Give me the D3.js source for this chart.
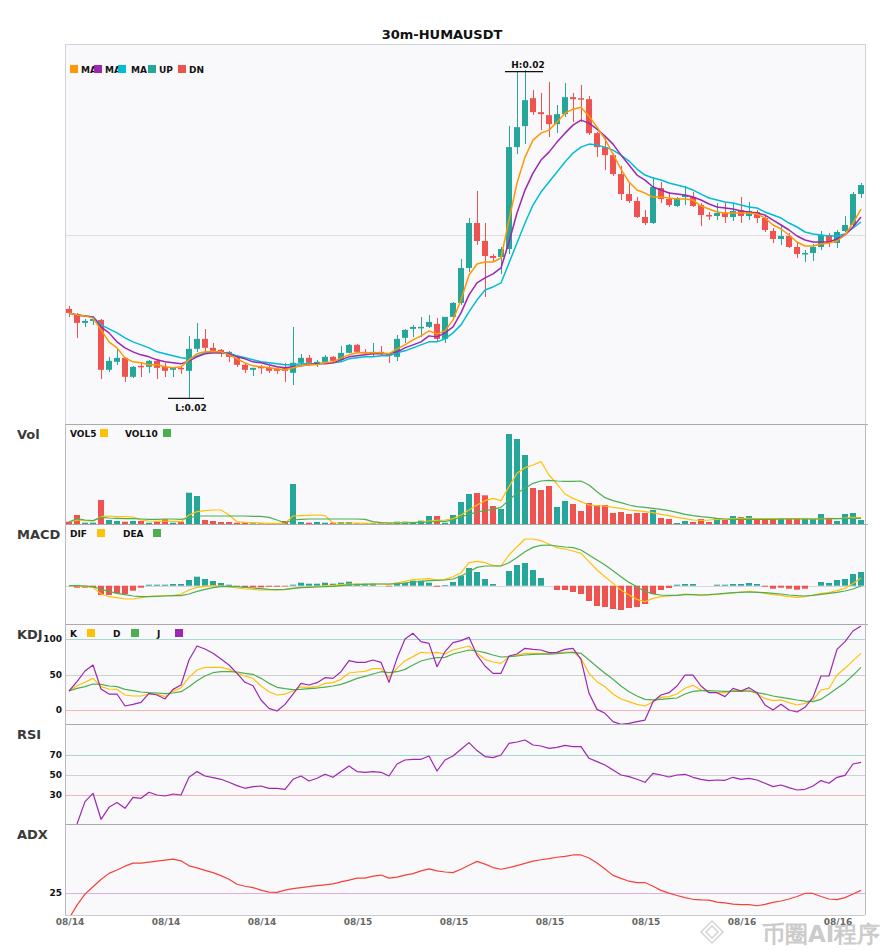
<!DOCTYPE html>
<html>
<head>
<meta charset="utf-8">
<title>30m-HUMAUSDT</title>
<script src="https://cdn.jsdelivr.net/npm/d3@7/dist/d3.min.js"></script>
<style>
  body { margin: 0; background: #ffffff; }
  text { font-family: "DejaVu Sans", sans-serif; font-weight: bold; }
</style>
</head>
<body>
<svg id="svg1" width="885" height="950"></svg>
<script>
// ---- candles (30m) ----
var open = [0.01972,0.01962,0.01944,0.01948,0.01950,0.01850,0.01866,0.01874,0.01836,0.01858,
  0.01856,0.01868,0.01856,0.01850,0.01854,0.01848,0.01892,0.01912,0.01894,0.01890,
  0.01886,0.01874,0.01860,0.01850,0.01856,0.01854,0.01852,0.01854,0.01844,0.01864,
  0.01874,0.01860,0.01866,0.01876,0.01870,0.01884,0.01900,0.01886,0.01882,0.01886,
  0.01882,0.01876,0.01914,0.01932,0.01934,0.01936,0.01942,0.01912,0.01956,0.01984,
  0.02054,0.02144,0.02108,0.02078,0.02076,0.02092,0.02296,0.02338,0.02394,0.02366,
  0.02360,0.02342,0.02362,0.02396,0.02394,0.02392,0.02324,0.02296,0.02280,0.02242,
  0.02202,0.02188,0.02156,0.02144,0.02214,0.02192,0.02178,0.02196,0.02196,0.02180,
  0.02160,0.02158,0.02164,0.02156,0.02170,0.02158,0.02166,0.02154,0.02128,0.02112,
  0.02118,0.02096,0.02082,0.02084,0.02096,0.02120,0.02104,0.02128,0.02140,0.02202];
var high = [0.01978,0.01964,0.01952,0.01956,0.01952,0.01876,0.01894,0.01876,0.01858,0.01866,
  0.01870,0.01872,0.01864,0.01856,0.01858,0.01918,0.01944,0.01932,0.01904,0.01892,
  0.01888,0.01876,0.01864,0.01854,0.01860,0.01858,0.01856,0.01864,0.01936,0.01882,
  0.01880,0.01870,0.01880,0.01878,0.01898,0.01902,0.01902,0.01892,0.01904,0.01898,
  0.01884,0.01920,0.01932,0.01940,0.01956,0.01960,0.01954,0.01956,0.01986,0.02072,
  0.02154,0.02208,0.02144,0.02082,0.02096,0.02338,0.02446,0.02450,0.02410,0.02404,
  0.02426,0.02380,0.02424,0.02404,0.02420,0.02398,0.02326,0.02314,0.02284,0.02258,
  0.02224,0.02196,0.02170,0.02236,0.02226,0.02206,0.02196,0.02218,0.02206,0.02184,
  0.02166,0.02184,0.02186,0.02184,0.02196,0.02186,0.02170,0.02160,0.02134,0.02138,
  0.02124,0.02106,0.02090,0.02102,0.02128,0.02124,0.02130,0.02158,0.02206,0.02224];
var low = [0.01956,0.01914,0.01936,0.01940,0.01832,0.01846,0.01860,0.01826,0.01834,0.01836,
  0.01844,0.01832,0.01836,0.01836,0.01842,0.01794,0.01886,0.01886,0.01886,0.01876,
  0.01866,0.01856,0.01844,0.01838,0.01842,0.01844,0.01842,0.01826,0.01820,0.01860,
  0.01860,0.01856,0.01864,0.01866,0.01866,0.01884,0.01884,0.01880,0.01878,0.01878,
  0.01864,0.01868,0.01904,0.01916,0.01916,0.01934,0.01906,0.01904,0.01954,0.01980,
  0.02046,0.02100,0.01996,0.02068,0.02042,0.02082,0.02282,0.02302,0.02360,0.02330,
  0.02316,0.02324,0.02356,0.02346,0.02346,0.02320,0.02276,0.02250,0.02238,0.02190,
  0.02184,0.02154,0.02140,0.02142,0.02184,0.02176,0.02176,0.02180,0.02176,0.02138,
  0.02150,0.02150,0.02144,0.02148,0.02144,0.02150,0.02144,0.02126,0.02104,0.02100,
  0.02094,0.02074,0.02066,0.02068,0.02090,0.02096,0.02094,0.02126,0.02138,0.02194];
var close = [0.01964,0.01944,0.01948,0.01952,0.01850,0.01868,0.01874,0.01836,0.01856,0.01856,
  0.01868,0.01854,0.01848,0.01854,0.01852,0.01892,0.01912,0.01894,0.01888,0.01884,
  0.01876,0.01860,0.01850,0.01854,0.01854,0.01848,0.01848,0.01848,0.01864,0.01874,
  0.01864,0.01866,0.01876,0.01868,0.01884,0.01900,0.01886,0.01884,0.01886,0.01882,
  0.01880,0.01912,0.01930,0.01936,0.01936,0.01946,0.01912,0.01956,0.01984,0.02054,
  0.02144,0.02108,0.02078,0.02074,0.02092,0.02296,0.02336,0.02390,0.02366,0.02362,
  0.02342,0.02362,0.02396,0.02392,0.02392,0.02324,0.02296,0.02280,0.02242,0.02202,
  0.02188,0.02156,0.02144,0.02216,0.02192,0.02180,0.02194,0.02200,0.02178,0.02160,
  0.02158,0.02164,0.02156,0.02168,0.02158,0.02168,0.02154,0.02130,0.02112,0.02118,
  0.02096,0.02082,0.02084,0.02096,0.02120,0.02104,0.02126,0.02140,0.02202,0.02220];

var ma5 = [0.01964,0.01960,0.01958,0.01954,0.01930,0.01906,0.01894,0.01874,0.01866,0.01864,
  0.01860,0.01860,0.01856,0.01854,0.01856,0.01870,0.01882,0.01886,0.01886,0.01886,
  0.01880,0.01872,0.01864,0.01858,0.01856,0.01854,0.01852,0.01850,0.01854,0.01858,
  0.01860,0.01860,0.01864,0.01866,0.01874,0.01880,0.01884,0.01884,0.01884,0.01884,
  0.01882,0.01892,0.01900,0.01910,0.01918,0.01928,0.01922,0.01928,0.01950,0.01990,
  0.02040,0.02062,0.02066,0.02066,0.02074,0.02150,0.02224,0.02276,0.02310,0.02324,
  0.02330,0.02346,0.02364,0.02372,0.02376,0.02358,0.02336,0.02312,0.02282,0.02252,
  0.02226,0.02210,0.02204,0.02196,0.02196,0.02194,0.02192,0.02192,0.02190,0.02178,
  0.02172,0.02166,0.02164,0.02164,0.02164,0.02164,0.02162,0.02154,0.02140,0.02132,
  0.02120,0.02106,0.02098,0.02098,0.02102,0.02104,0.02108,0.02120,0.02144,0.02172];
var ma10 = [0.01964,0.01960,0.01958,0.01956,0.01936,0.01924,0.01906,0.01894,0.01886,0.01880,
  0.01876,0.01870,0.01866,0.01864,0.01862,0.01868,0.01876,0.01882,0.01884,0.01884,
  0.01882,0.01876,0.01872,0.01866,0.01864,0.01860,0.01856,0.01854,0.01856,0.01858,
  0.01860,0.01862,0.01862,0.01864,0.01870,0.01876,0.01878,0.01880,0.01882,0.01882,
  0.01882,0.01886,0.01894,0.01900,0.01906,0.01918,0.01916,0.01924,0.01936,0.01964,
  0.02000,0.02024,0.02034,0.02042,0.02054,0.02106,0.02164,0.02210,0.02244,0.02270,
  0.02286,0.02306,0.02324,0.02340,0.02350,0.02344,0.02332,0.02318,0.02302,0.02280,
  0.02260,0.02240,0.02230,0.02216,0.02210,0.02204,0.02202,0.02200,0.02196,0.02190,
  0.02182,0.02176,0.02174,0.02172,0.02168,0.02166,0.02164,0.02160,0.02150,0.02140,
  0.02130,0.02118,0.02110,0.02106,0.02106,0.02106,0.02112,0.02120,0.02136,0.02156];
var ma20 = [0.01964,0.01960,0.01958,0.01956,0.01940,0.01932,0.01924,0.01914,0.01906,0.01900,
  0.01894,0.01886,0.01882,0.01878,0.01874,0.01872,0.01878,0.01884,0.01884,0.01884,
  0.01884,0.01878,0.01874,0.01870,0.01866,0.01864,0.01862,0.01860,0.01860,0.01862,
  0.01862,0.01862,0.01864,0.01864,0.01866,0.01872,0.01874,0.01876,0.01876,0.01878,
  0.01878,0.01884,0.01888,0.01894,0.01900,0.01906,0.01906,0.01912,0.01924,0.01940,
  0.01966,0.01990,0.02010,0.02016,0.02024,0.02064,0.02104,0.02144,0.02180,0.02206,
  0.02226,0.02246,0.02266,0.02284,0.02296,0.02302,0.02300,0.02296,0.02290,0.02280,
  0.02268,0.02252,0.02240,0.02234,0.02230,0.02224,0.02220,0.02216,0.02210,0.02202,
  0.02194,0.02190,0.02186,0.02184,0.02180,0.02176,0.02174,0.02166,0.02160,0.02154,
  0.02144,0.02136,0.02126,0.02122,0.02120,0.02118,0.02118,0.02122,0.02134,0.02146];

// volume in thousands
var volume = [230,900,130,130,2400,400,300,230,300,300,
  130,230,470,130,230,3130,2800,400,300,200,
  200,130,130,70,70,70,70,300,4000,200,
  130,200,130,130,200,200,70,70,70,70,
  70,230,230,130,330,800,800,130,900,2200,
  3000,3100,2870,1800,1500,9000,8500,6900,3600,3400,
  3800,1700,2300,2000,1300,2100,1900,1900,1100,1200,
  1000,1100,1100,1400,600,500,100,300,200,500,
  200,600,400,800,700,800,600,600,600,600,
  600,600,500,500,1000,600,300,1000,1100,400];
var vol5 = [200,400,333,300,733,800,733,733,700,400,
  300,267,300,267,233,900,1233,1333,1400,1400,
  900,233,167,133,100,67,67,67,800,833,
  867,900,833,100,100,100,100,67,100,100,
  100,133,167,167,200,300,367,400,533,900,
  1400,1900,2333,2567,2333,3733,5067,5633,5900,6233,
  4900,4000,3000,2567,2233,1900,1833,1800,1667,1567,
  1400,1333,1233,1133,967,833,667,533,400,367,
  400,467,500,533,567,567,533,533,533,533,
  533,533,533,500,533,567,533,600,667,633];
var vol10 = [200,533,400,333,667,600,567,533,533,500,
  467,467,500,500,467,600,800,800,800,800,
  800,800,800,767,767,667,400,100,400,467,
  500,500,500,500,500,500,500,467,233,133,
  100,100,100,133,167,200,267,267,400,700,
  967,1200,1333,1467,1667,2400,3067,3567,4067,4300,
  4367,4300,4267,4267,4300,3900,3233,2633,2333,2133,
  1900,1733,1667,1567,1467,1333,1167,967,833,733,
  667,567,500,467,467,467,467,467,467,500,
  500,500,500,500,500,533,533,533,567,567];

// MACD values, in units of 1e-5
var dif = [0,-0.3,-0.7,-1.7,-8.3,-11,-12,-13.3,-13.3,-12,
  -10.7,-10.3,-10,-10,-8.3,-4.3,-1.7,-0.7,0,-0.3,
  -1,-2.3,-3.3,-3.7,-4.3,-4.3,-4.3,-4,-2.7,-1.7,
  -1.3,-1,0,0.3,1,1.7,1.7,1.7,1.7,1.7,
  1.3,2.7,4.3,6,6.7,7,5.7,6.3,9,13,
  23,24.3,23,20.3,19.7,30.7,39,46.7,46.7,45,
  41.7,38,36.7,34.7,32.3,24,15.7,9,2.3,-4.3,
  -9.3,-13.7,-16,-12.7,-11,-10.3,-9.7,-8.3,-9,-9.7,
  -9.3,-8.7,-8,-7.3,-6.3,-5.7,-6.3,-7.7,-9,-9.7,
  -11,-11.7,-11,-9.3,-7.7,-7,-5,-2.7,2.3,7.7];
var dea = [0,0,-0.3,-1,-3.7,-5.7,-7.7,-9,-10.3,-11,
  -11,-10.7,-10.3,-10,-10,-8.3,-5.7,-3.7,-2,-1,
  -0.7,-1,-1.7,-2.3,-3,-3.7,-4,-3.7,-2.7,-2,
  -1.7,-1.3,-1,-0.7,0,0.7,1,1.3,1.7,1.7,
  1.7,2,2.7,3.7,4.3,5,5.3,5.7,6.7,9.7,
  14,18.3,19.7,19.7,19.7,23,28.3,34,38.3,40.3,
  40.7,39.7,38.7,38,35.7,30.7,25.7,20.7,15,9,
  3.3,-1,-5.7,-8.3,-9.3,-9.7,-9.7,-9,-9,-9.3,
  -9,-8.3,-7.7,-7,-6.7,-6.3,-6.7,-7,-7.7,-8.3,
  -9.3,-10,-10.3,-9.7,-8.7,-7.7,-6.7,-5.3,-3.3,-0.3];
var macdHist = [0,-2,-2,-2,-9.3,-9.3,-7.7,-8.3,-5,-2,
  1,1,1,1.7,1.7,5.7,9,6.7,4.7,2.7,
  1,-1,-1.7,-1.7,-1.7,-1,-1,-0.7,1,3,
  2,2,3,2,3,4,2,2,2,0,
  -0.7,3,3,5,5,3,-1,0.7,3.7,10,
  17.7,13.7,6.7,1.7,0,14.7,20.7,22.7,15.7,7.7,
  0,-4.3,-4.3,-6.3,-8.3,-15.3,-20.3,-21.3,-23.3,-24.3,
  -22.3,-21.3,-18.3,-8.3,-4.3,-2.3,1,1.7,1.7,0,
  0,1,1,1.7,1.7,2.7,1.7,-1,-3,-2,
  -3,-4,-3,0,3.7,2.7,5.7,6.7,11.7,13.7];

var kLine = [26.9,34.4,39.2,44.8,33,29.7,29.2,21.2,19.8,19.8,
  22.6,22.6,18.9,26.4,31.6,46.2,56.6,60.4,60.4,60.4,
  57.5,51.9,48.1,44.8,34,25.9,21.2,22.6,26.9,32.5,
  32.1,33,37.7,38.7,43.4,52.4,53.8,54.7,58.5,58.5,
  46.2,59,69.8,75.5,81.6,80.7,81.6,79.2,84.9,87.7,
  90.6,80.2,71.7,67.9,66,75.5,77.4,80.2,80.2,80.2,
  79.7,80.7,81.6,82.1,73.1,51.9,40.1,33,22.6,15.6,
  11.8,8,5.7,11.8,17.9,18.9,22.6,30.7,34.9,28.3,
  25.5,24.5,24.5,27.4,27.4,28.3,22.6,16.5,13.2,14.2,
  10.4,7.1,9.4,14.2,28.3,30.7,49.5,59,69.8,80.2];
var dLine = [26.9,30.7,33,36.8,36.3,34,33,29.2,27.4,25.5,
  24.5,24.1,23.1,24.1,25.9,33,41.5,48.1,52.8,54.2,
  54.2,53.8,51.9,50.5,44.8,37.7,32.1,30.2,28.8,29.2,
  30.2,31.1,32.5,34,36.3,40.1,44.8,47.6,50.9,54.2,
  52.8,54.2,57.5,63.7,69.3,72.2,74,74.5,79.2,82.1,
  84.9,83.5,81.1,77.8,75,75.5,76.4,77.8,78.8,79.2,
  79.2,79.7,80.7,81.6,80.2,70.8,61.3,51.9,43.4,34,
  25.9,19.8,15.1,14.2,15.1,16,17,22.6,26.4,27.4,
  27.4,26.9,26.4,26.4,26.4,26.9,24.5,22.6,19.8,17.9,
  16,14.2,12.7,11.8,15.1,22.6,30.7,38.7,49.1,60.4];
var jLine = [26.9,40.1,55.2,63.7,29.7,22.6,22.6,5.7,8,10.8,
  23.6,21.2,15.6,29.2,35.4,70.8,90.6,86.3,80.2,72.2,
  63.7,51.9,39.2,34.4,14.2,2.4,-1.4,8,22.6,37.7,
  35.4,38.7,45.8,44.8,54.2,69.8,67.5,67.5,70.8,67.5,
  39.2,73.1,100.5,108.5,96.7,94.3,61.3,82.5,95.3,98.1,
  102.8,77.8,62.3,51.9,51.9,76.4,79.2,87.3,85.8,84.9,
  81.1,81.6,85.8,87.3,71.7,23.6,0.9,-4.7,-16.5,-20.3,
  -18.9,-16.5,-14.2,11.8,21.2,24.5,34,49.5,49.5,34,
  24.5,24.5,18.9,30.7,26.9,31.6,24.5,7.1,0,8,
  0,-2.8,3.8,17.9,48.1,48.1,85.8,96.7,111.8,118.9];

var rsi = [null,1.3,23.7,32,6,18,22.7,17,28,27,
  33,30.3,29.3,31.3,30.3,48,53.7,49.3,47.7,46,
  43,39.7,37,38.7,39.3,37,37,36,46,49.3,
  44.3,47,51,48,53.7,59.3,53.7,53,53.7,53,
  49.3,61.3,65.3,66,66,69.3,54.3,65.3,69.3,76,
  82.7,74.7,68.7,67.7,70.3,82,83.3,85.3,80.3,79.3,
  77,78,80,78.7,78.7,67,63.7,60.3,55.3,50.3,
  48.7,46,43,52,50.3,48.3,50.3,51,48,46,
  44.7,45.3,45,48,46,47,45.3,42,38.7,40.3,
  37.7,35.3,36,39.3,44.7,42,48,50,61.3,63];

var adx = [8.6,17.4,24.6,29.4,34.1,38.1,40.3,42.8,44.8,44.8,
  45.4,46.1,46.8,47.4,46.3,43,41.7,40.1,38.6,36.6,
  34.3,31,29.7,28.8,27.2,25.9,25.7,27.2,28.1,28.8,
  29.4,30.1,30.6,31.2,32.6,33.7,35,35,36.3,37,
  35,35.7,37,37.9,39.7,41,39.7,39,38.6,40.8,
  43.4,45.9,44.1,41.9,40.8,41.9,43.2,44.6,46.1,47,
  47.7,48.6,49.2,50.1,50.1,48.1,44.8,41,36.8,34.8,
  33,32.1,32.1,29.7,27,25.2,23.7,22.3,21.2,20.8,
  20.6,19.4,18.8,18.1,17.7,17.7,17,17.9,19.2,20.1,
  21.4,23,25,25,23,21.4,21,22.3,24.6,27];

// one label every 12 candles
var tickLabels = ['08/14','08/14','08/14','08/15','08/15','08/15','08/15','08/16','08/16'];

var svg = d3.select('svg');

var left = 65, right = 865;
var upColor = '#26a69a', dnColor = '#ef5350';

// panel boxes, top to bottom
var pMain = {top: 44, bottom: 424},
    pVol = {top: 424, bottom: 524},
    pMacd = {top: 524, bottom: 624},
    pKdj = {top: 624, bottom: 724},
    pRsi = {top: 724, bottom: 824},
    pAdx = {top: 824, bottom: 915};

var x = d3.scaleBand()
    .domain(d3.range(close.length))
    .range([left, right])
    .paddingInner(0.25)
    .paddingOuter(0.125);
function cx(i) { return x(i) + x.bandwidth() / 2; }
function isUp(i) { return close[i] >= open[i]; }

var minLow = d3.min(low), maxHigh = d3.max(high);
var pricePad = (maxHigh - minLow) * 0.08;
var yPrice = d3.scaleLinear().domain([minLow - pricePad, maxHigh + pricePad]).range([pMain.bottom, pMain.top]);
var yVol = d3.scaleLinear().domain([0, 10000]).range([pVol.bottom, pVol.top]);
var yMacd = d3.scaleLinear().domain([-38.3, 61.7]).range([pMacd.bottom, pMacd.top]);
var yKdj = d3.scaleLinear().domain([-19.8, 121.7]).range([pKdj.bottom, pKdj.top]);
var yRsi = d3.scaleLinear().domain([1.3, 101.3]).range([pRsi.bottom, pRsi.top]);
var yAdx = d3.scaleLinear().domain([10.3, 70.3]).range([pAdx.bottom + 1, pAdx.top]);

// title
svg.append('text')
    .attr('x', 442).attr('y', 39)
    .attr('text-anchor', 'middle')
    .attr('font-size', 13)
    .attr('fill', '#111')
    .text('30m-HUMAUSDT');

var defs = svg.append('defs');
var allPanels = [pMain, pVol, pMacd, pKdj, pRsi, pAdx];
allPanels.forEach(function(p, k) {
    p.clip = 'clip' + k;
    defs.append('clipPath').attr('id', p.clip)
        .append('rect')
        .attr('x', left).attr('y', p.top)
        .attr('width', right - left).attr('height', p.bottom - p.top);
    svg.append('rect')
        .attr('x', left).attr('y', p.top)
        .attr('width', right - left).attr('height', p.bottom - p.top)
        .attr('fill', '#f9f9fb');
    p.g = svg.append('g').attr('clip-path', 'url(#' + p.clip + ')');
});

// frame lines
svg.append('rect')
    .attr('x', left + 0.5).attr('y', pMain.top + 0.5)
    .attr('width', right - left).attr('height', pMain.bottom - pMain.top)
    .attr('fill', 'none').attr('stroke', '#d2d2da');
[pVol, pMacd, pKdj, pRsi, pAdx].forEach(function(p) {
    svg.append('line')
        .attr('x1', left).attr('x2', right + 3)
        .attr('y1', p.top + 0.5).attr('y2', p.top + 0.5)
        .attr('stroke', '#aaa');
});
svg.append('line').attr('x1', left).attr('x2', right)
    .attr('y1', pAdx.bottom + 0.5).attr('y2', pAdx.bottom + 0.5).attr('stroke', '#ccc');
svg.append('line').attr('x1', left + 0.5).attr('x2', left + 0.5)
    .attr('y1', pVol.top).attr('y2', pAdx.bottom).attr('stroke', '#bbb');
svg.append('line').attr('x1', right + 0.5).attr('x2', right + 0.5)
    .attr('y1', pVol.top).attr('y2', pAdx.bottom).attr('stroke', '#bbb');

// main grid line
pMain.g.append('line')
    .attr('x1', left).attr('x2', right)
    .attr('y1', Math.round(yPrice(0.0212)) + 0.5).attr('y2', Math.round(yPrice(0.0212)) + 0.5)
    .attr('stroke', '#dcdce2');

function drawLine(g, values, yScale, color, width) {
    var line = d3.line()
        .defined(function(d) { return d != null; })
        .x(function(d, i) { return cx(i); })
        .y(function(d) { return yScale(d); });
    g.append('path')
        .datum(values)
        .attr('d', line)
        .attr('fill', 'none')
        .attr('stroke', color)
        .attr('stroke-width', width)
        .attr('stroke-linejoin', 'round');
}

function refLine(g, yScale, v, color) {
    var yy = Math.round(yScale(v)) + 0.5;
    g.append('line')
        .attr('x1', left).attr('x2', right)
        .attr('y1', yy).attr('y2', yy)
        .attr('stroke', color);
}

function yLabel(yScale, v) {
    svg.append('text')
        .attr('x', 62).attr('y', yScale(v) + 3)
        .attr('text-anchor', 'end')
        .attr('font-size', 9)
        .attr('fill', '#111')
        .text(v);
}

// ---- candles ----
var candles = pMain.g.selectAll('g.candle')
    .data(close)
    .enter()
    .append('g')
    .attr('class', 'candle');

candles.append('line')
    .attr('x1', function(d, i) { return cx(i); })
    .attr('x2', function(d, i) { return cx(i); })
    .attr('y1', function(d, i) { return yPrice(high[i]); })
    .attr('y2', function(d, i) { return yPrice(low[i]); })
    .attr('stroke', function(d, i) { return isUp(i) ? upColor : dnColor; })
    .attr('stroke-width', 1)
    .attr('shape-rendering', 'crispEdges');

candles.append('rect')
    .attr('x', function(d, i) { return x(i); })
    .attr('width', x.bandwidth())
    .attr('y', function(d, i) { return yPrice(Math.max(open[i], close[i])); })
    .attr('height', function(d, i) { return Math.max(1.5, Math.abs(yPrice(open[i]) - yPrice(close[i]))); })
    .attr('fill', function(d, i) { return isUp(i) ? upColor : dnColor; });

drawLine(pMain.g, ma20, yPrice, '#00bcd4', 1.5);
drawLine(pMain.g, ma10, yPrice, '#9c27b0', 1.5);
drawLine(pMain.g, ma5, yPrice, '#ff9800', 1.5);

// highest / lowest markers
var fmt = d3.format('.2f');
var hi = d3.maxIndex(high), lo = d3.minIndex(low);
svg.append('line')
    .attr('x1', cx(hi) - 20).attr('x2', cx(hi) + 18)
    .attr('y1', yPrice(high[hi]) + 1.5).attr('y2', yPrice(high[hi]) + 1.5)
    .attr('stroke', '#111').attr('stroke-width', 1.2);
svg.append('text')
    .attr('x', cx(hi) + 3).attr('y', yPrice(high[hi]) - 2)
    .attr('text-anchor', 'middle').attr('font-size', 9).attr('fill', '#111')
    .text('H:' + fmt(high[hi]));
svg.append('line')
    .attr('x1', cx(lo) - 21).attr('x2', cx(lo) + 15)
    .attr('y1', yPrice(low[lo]) + 0.5).attr('y2', yPrice(low[lo]) + 0.5)
    .attr('stroke', '#111').attr('stroke-width', 1.2);
svg.append('text')
    .attr('x', cx(lo) + 2).attr('y', yPrice(low[lo]) + 13)
    .attr('text-anchor', 'middle').attr('font-size', 9).attr('fill', '#111')
    .text('L:' + fmt(low[lo]));

// ---- volume ----
pVol.g.selectAll('rect.vol')
    .data(volume)
    .enter()
    .append('rect')
    .attr('class', 'vol')
    .attr('x', function(d, i) { return x(i); })
    .attr('width', x.bandwidth())
    .attr('y', function(d) { return yVol(d); })
    .attr('height', function(d) { return yVol(0) - yVol(d); })
    .attr('fill', function(d, i) { return isUp(i) ? upColor : dnColor; });
drawLine(pVol.g, vol5, yVol, '#ffc107', 1.2);
drawLine(pVol.g, vol10, yVol, '#4caf50', 1.2);

// ---- MACD ----
refLine(pMacd.g, yMacd, 0, '#d8d8d8');
pMacd.g.selectAll('rect.hist')
    .data(macdHist)
    .enter()
    .append('rect')
    .attr('class', 'hist')
    .attr('x', function(d, i) { return x(i); })
    .attr('width', x.bandwidth())
    .attr('y', function(d) { return yMacd(Math.max(0, d)); })
    .attr('height', function(d) { return Math.abs(yMacd(d) - yMacd(0)); })
    .attr('fill', function(d) { return d >= 0 ? upColor : dnColor; });
drawLine(pMacd.g, dif, yMacd, '#ffc107', 1.2);
drawLine(pMacd.g, dea, yMacd, '#4caf50', 1.2);

// ---- KDJ ----
refLine(pKdj.g, yKdj, 100, '#a6d8d2');
refLine(pKdj.g, yKdj, 50, '#d0d0d0');
refLine(pKdj.g, yKdj, 0, '#f6b4b4');
drawLine(pKdj.g, kLine, yKdj, '#ffc107', 1.2);
drawLine(pKdj.g, dLine, yKdj, '#4caf50', 1.2);
drawLine(pKdj.g, jLine, yKdj, '#9c27b0', 1.2);
[100, 50, 0].forEach(function(v) { yLabel(yKdj, v); });

// ---- RSI ----
refLine(pRsi.g, yRsi, 70, '#a6d8d2');
refLine(pRsi.g, yRsi, 50, '#d0d0d0');
refLine(pRsi.g, yRsi, 30, '#f6b4b4');
drawLine(pRsi.g, rsi, yRsi, '#9c27b0', 1.2);
[70, 50, 30].forEach(function(v) { yLabel(yRsi, v); });

// ---- ADX ----
refLine(pAdx.g, yAdx, 25, '#dfaee6');
drawLine(pAdx.g, adx, yAdx, '#f44336', 1.2);
yLabel(yAdx, 25);

// ---- panel names ----
[['Vol', pVol], ['MACD', pMacd], ['KDJ', pKdj], ['RSI', pRsi], ['ADX', pAdx]].forEach(function(d) {
    svg.append('text')
        .attr('x', 17).attr('y', d[1].top + 15)
        .attr('font-size', 13)
        .attr('fill', '#3a3a3a')
        .text(d[0]);
});

// ---- legends: text first (clipped at the next square), colour squares on top ----
var legendCount = 0;
function legend(items, y) {
    items.forEach(function(it, k) {
        var t = svg.append('text')
            .attr('x', it.tx).attr('y', y)
            .attr('font-size', 9).attr('fill', '#111')
            .text(it.label);
        if (it.cut) {
            var id = 'legclip' + (legendCount++);
            defs.append('clipPath').attr('id', id)
                .append('rect')
                .attr('x', it.tx - 1).attr('y', y - 12)
                .attr('width', it.cut - it.tx + 1).attr('height', 16);
            t.attr('clip-path', 'url(#' + id + ')');
        }
    });
    items.forEach(function(it) {
        svg.append('rect')
            .attr('x', it.sx).attr('y', y - 8)
            .attr('width', 8).attr('height', 8)
            .attr('fill', it.color);
    });
}
legend([
    {label: 'MA5', tx: 81, sx: 70, cut: 94, color: '#ff9800'},
    {label: 'MA10', tx: 105, sx: 94, cut: 118, color: '#9c27b0'},
    {label: 'MA20', tx: 131, sx: 118, cut: 147, color: '#00bcd4'},
    {label: 'UP', tx: 159, sx: 148, color: upColor},
    {label: 'DN', tx: 189, sx: 178, color: dnColor}
], 73);
legend([
    {label: 'VOL5', tx: 70, sx: 100, color: '#ffc107'},
    {label: 'VOL10', tx: 125, sx: 163, color: '#4caf50'}
], pVol.top + 13);
legend([
    {label: 'DIF', tx: 70, sx: 97, color: '#ffc107'},
    {label: 'DEA', tx: 123, sx: 153, color: '#4caf50'}
], pMacd.top + 13);
legend([
    {label: 'K', tx: 70, sx: 87, color: '#ffc107'},
    {label: 'D', tx: 113, sx: 131, color: '#4caf50'},
    {label: 'J', tx: 157, sx: 175, color: '#9c27b0'}
], pKdj.top + 13);

// ---- x axis labels ----
svg.selectAll('text.xlab')
    .data(tickLabels)
    .enter()
    .append('text')
    .attr('class', 'xlab')
    .attr('x', function(d, k) { return cx(k * 12) + 1; })
    .attr('y', pAdx.bottom + 10)
    .attr('text-anchor', 'middle')
    .attr('font-size', 9)
    .attr('fill', '#666')
    .text(function(d) { return d; });

// ---- watermark ----
var wm = svg.append('g').attr('opacity', 0.5);
wm.append('path')
    .attr('d', 'M712,921 L723,932 L712,943 L701,932 Z M712,926 L718,932 L712,938 L706,932 Z')
    .attr('fill', 'none').attr('stroke', '#aaa').attr('stroke-width', 1.5);
wm.append('text')
    .attr('x', 762).attr('y', 942)
    .attr('font-family', '"Noto Sans CJK SC", sans-serif')
    .attr('font-weight', 'normal')
    .attr('font-size', 23).attr('fill', '#999')
    .text('币圈AI程序');
</script>
</body>
</html>
